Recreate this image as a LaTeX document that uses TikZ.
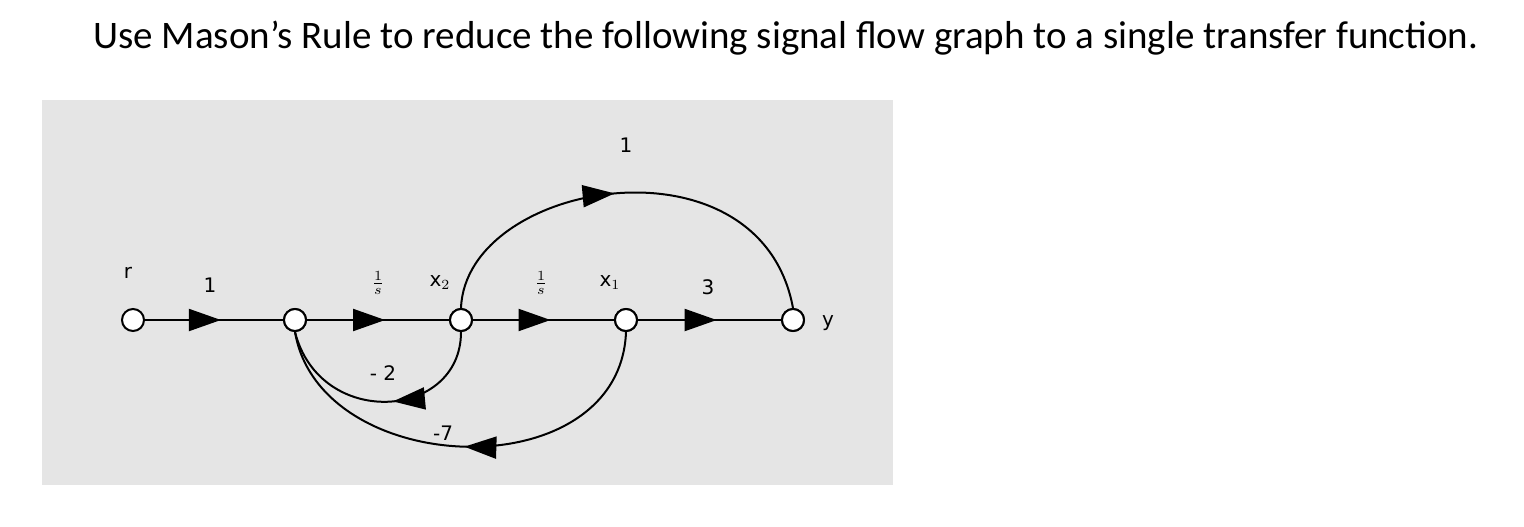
\documentclass[tikz,border=0pt]{standalone}
\usepackage{fontspec}
\setmainfont{Carlito}
\newfontfamily\dgfont{DejaVu Sans}
\usetikzlibrary{arrows.meta,decorations.markings}
\begin{document}
\begin{tikzpicture}[x=0.5pt,y=-0.5pt,
  sfnode/.style={circle,draw,line width=1pt,fill=white,minimum size=11pt,inner sep=0pt},
  branch/.style={line width=1pt,postaction={decorate},decoration={markings,mark=at position #1 with {\arrow{Triangle[length=16pt,width=11pt]}}}},
  branch/.default=0.5,
  lbl/.style={font=\dgfont\fontsize{10}{12}\selectfont,inner sep=0pt}]
\useasboundingbox (0,0) rectangle (1524,526);
\fill[white] (0,0) rectangle (1524,526);
\node[anchor=west,inner sep=0pt,font=\fontsize{19.5}{22}\selectfont] (title) at (93,38) {Use Mason’s Rule to reduce the following signal flow graph to a single transfer function.};
\fill[black!10] (42,100) rectangle (893,485);
\node[sfnode] (r) at (133,320) {};
\node[sfnode] (a) at (295,320) {};
\node[sfnode] (x2) at (461,320) {};
\node[sfnode] (x1) at (626,320) {};
\node[sfnode] (y) at (793,320) {};
\draw[branch=0.55] (r) -- (a);
\draw[branch=0.55] (a) -- (x2);
\draw[branch=0.55] (x2) -- (x1);
\draw[branch=0.55] (x1) -- (y);
\draw[branch=0.47] (x2.north) .. controls (466,180) and (760,130) .. (y.north);
\draw[branch=0.45] (x2.south) .. controls (461,420) and (320,430) .. (a.south);
\draw[branch=0.5] (x1.south) .. controls (620,490) and (320,480) .. (a.south);
\node[sfnode] at (a) {};
\node[sfnode] at (x2) {};
\node[sfnode] at (x1) {};
\node[sfnode] at (y) {};
\node[lbl] (lr) at (128,273) {r};
\node[lbl] (l1) at (210,285) {1};
\node[lbl] (ls1) at (378,283) {$\frac{1}{s}$};
\node[lbl] (lx2) at (440,283) {x$_2$};
\node[lbl] (ls2) at (541,283) {$\frac{1}{s}$};
\node[lbl] (lx1) at (610,283) {x$_1$};
\node[lbl] (l3) at (708,287) {3};
\node[lbl] (ly) at (828,323) {y};
\node[lbl] (ltop) at (626,145) {1};
\node[lbl] (lm2) at (383,373) {- 2};
\node[lbl] (lm7) at (443,433) {-7};
\end{tikzpicture}
\end{document}
